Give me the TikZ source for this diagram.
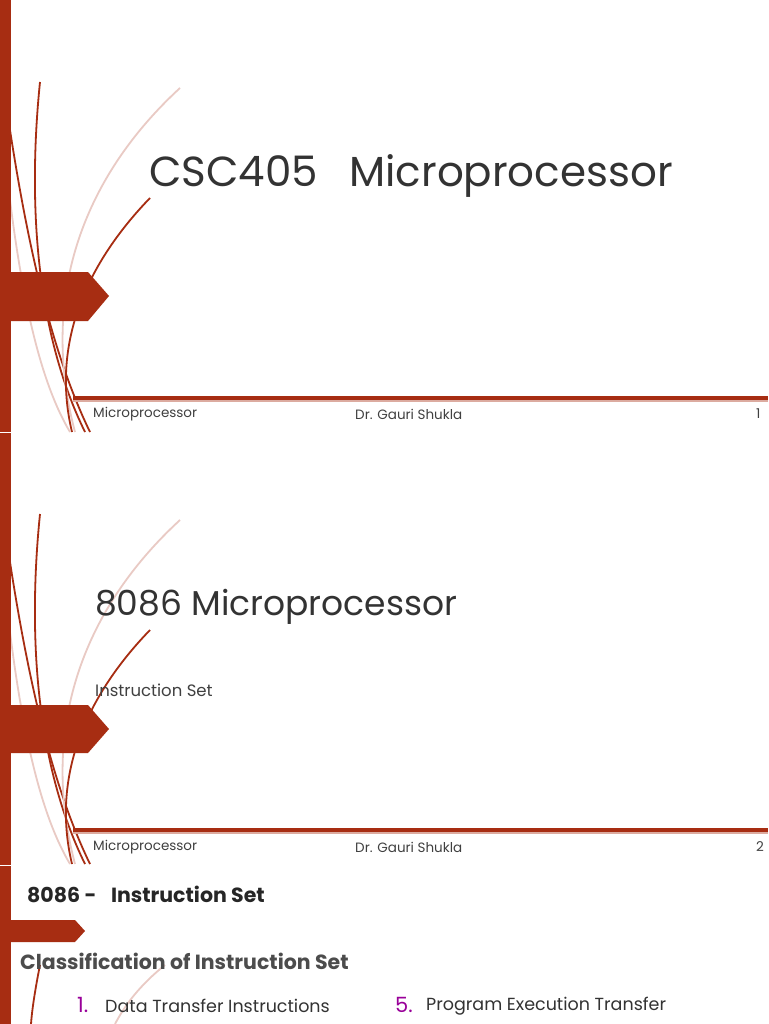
\documentclass[tikz,border=0pt]{standalone}
\usepackage{fontspec}
\setmainfont{Poppins}
\begin{document}
\begin{tikzpicture}[x=1pt,y=-1pt,
  red/.style={fill=rust,draw=none},
  ftxt/.style={anchor=west,font=\fontsize{13.5}{13}\selectfont,text=black!75,inner sep=0},
  crv/.style={draw=rust,line width=1.8pt},
  crvl/.style={draw=rust!25,line width=1.8pt}]
\definecolor{rust}{RGB}{167,45,18}
\useasboundingbox (0,0) rectangle (768,1024);
\fill[white] (0,0) rectangle (768,1024);
\foreach \o in {0,432}{
  \begin{scope}[yshift=-\o pt]
  \draw[crv] (40,82) .. controls (28,200) and (35,330) .. (85,432);
  \draw[crv] (10,130) .. controls (30,260) and (55,360) .. (90,432);
  \draw[crvl] (180,88) .. controls (80,180) and (40,300) .. (75,432);
  \draw[crv] (150,198) .. controls (90,260) and (50,340) .. (72,432);
  \draw[crvl] (10,200) .. controls (25,320) and (45,390) .. (70,432);
  \fill[rust] (73,396) rectangle (768,400);
  \fill[rust!40] (73,400) rectangle (768,401.5);
  \end{scope}
}
\fill[rust] (0,0) rectangle (11,1024);
\fill[rust] (0,272) -- (88,272) -- (109,296) -- (88,321) -- (0,321) -- cycle;
\fill[rust] (0,705) -- (88,705) -- (109,729) -- (88,753) -- (0,753) -- cycle;
\fill[rust] (0,920) -- (75,920) -- (85,931) -- (75,942) -- (0,942) -- cycle;
\draw[white,line width=0.6pt] (0,432) -- (11,432);
\draw[white,line width=0.6pt] (0,865) -- (11,865);
\draw[crv] (40,965) .. controls (35,990) and (32,1010) .. (31,1024);
\draw[crvl] (165,965) .. controls (140,985) and (125,1005) .. (115,1024);
\node[anchor=west,inner sep=0,font=\fontsize{42}{42}\selectfont,text=black!80] (t1) at (149,176) {CSC405\hspace{0.75em}Microprocessor};
\node[ftxt] (f1a) at (93,414) {Microprocessor};
\node[ftxt] (f1b) at (355,414) {Dr. Gauri Shukla};
\node[ftxt] (f1c) at (756,414) {1};
\node[anchor=west,inner sep=0,font=\fontsize{34.5}{34}\selectfont,text=black!80] (t2) at (95,607) {8086 Microprocessor};
\node[anchor=west,inner sep=0,font=\fontsize{16.5}{16}\selectfont,text=black!75] (s2) at (95,690) {Instruction Set};
\node[ftxt] (f2a) at (93,847) {Microprocessor};
\node[ftxt] (f2b) at (355,847) {Dr. Gauri Shukla};
\node[ftxt] (f2c) at (756,847) {2};
\node[anchor=west,inner sep=0,font=\fontsize{20.5}{20}\bfseries\selectfont,text=black!85] (t3) at (27,894) {8086 -\hspace{0.5em} Instruction Set};
\node[anchor=west,inner sep=0,font=\fontsize{20.5}{20}\bfseries\selectfont,text=black!70] (c3) at (20,961) {Classification of Instruction Set};
\node[anchor=west,inner sep=0,font=\fontsize{21}{21}\selectfont,text=violet!80!magenta] (n1) at (77,1005) {1.};
\node[anchor=west,inner sep=0,font=\fontsize{17.5}{17}\selectfont,text=black!80] (i1) at (105,1006) {Data Transfer Instructions};
\node[anchor=west,inner sep=0,font=\fontsize{21}{21}\selectfont,text=violet!80!magenta] (n5) at (395,1005) {5.};
\node[anchor=west,inner sep=0,font=\fontsize{17.5}{17}\selectfont,text=black!80] (i5) at (426,1006) {Program Execution Transfer};
\end{tikzpicture}
\end{document}
